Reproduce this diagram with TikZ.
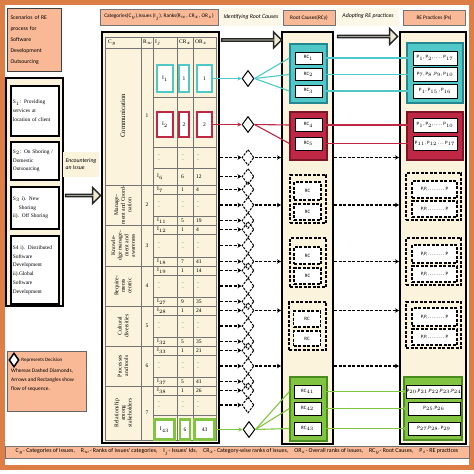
\documentclass[tikz,border=0pt]{standalone}
\usepackage{fontspec}
\setmainfont{Liberation Serif}
\newfontfamily\calfont{Carlito}
\usetikzlibrary{positioning,arrows.meta,shapes.geometric,shapes.arrows,calc}

\definecolor{salmon}{RGB}{249,185,150}
\definecolor{cream}{RGB}{251,243,220}
\definecolor{borderorange}{RGB}{221,126,70}
\definecolor{tealc}{RGB}{80,200,200}
\definecolor{tealdark}{RGB}{35,135,145}
\definecolor{crimson}{RGB}{190,40,68}
\definecolor{crimsondark}{RGB}{125,20,40}
\definecolor{leaf}{RGB}{128,196,66}
\definecolor{leafdark}{RGB}{72,140,30}
\definecolor{arrowfill}{RGB}{238,234,210}

\tikzset{
  labelbox/.style={draw=black!55, fill=salmon, line width=0.5pt, inner sep=1.5pt,
    font=\calfont\fontsize{5.3}{6}\selectfont},
  colframe/.style={draw=black, fill=cream, line width=2pt, inner sep=0pt},
  scenbox/.style={draw=black, fill=white, line width=1.8pt, inner sep=2pt, anchor=north west,
    align=left, text width=44pt, font=\fontsize{5.4}{8.8}\selectfont},
  gridline/.style={draw=black!55, line width=0.4pt},
  cell/.style={anchor=west, inner sep=0pt, font=\fontsize{5.5}{6}\selectfont},
  dotcell/.style={inner sep=0pt, align=center, font=\fontsize{5.5}{5}\selectfont},
  catlabel/.style={rotate=90, align=center, inner sep=0pt, font=\fontsize{5.7}{6.6}\selectfont},
  hibox/.style={fill=white, line width=2pt, inner sep=0pt, font=\fontsize{5.5}{6}\selectfont},
  bigarrow/.style={single arrow, draw=black!85, line width=1.4pt, fill=arrowfill,
    single arrow head extend=4pt, single arrow head indent=0pt, inner sep=0pt, minimum width=16pt},
  decision/.style={diamond, draw=black, line width=1pt, fill=white, inner sep=0pt,
    minimum width=12pt, minimum height=16pt},
  ddiam/.style={diamond, draw=black, line width=1pt, dash pattern=on 2.4pt off 1.2pt,
    inner sep=0pt, minimum width=12pt, minimum height=16pt},
  darr/.style={line width=1.2pt, dash pattern=on 3pt off 1.5pt, -{Stealth[length=4pt,width=4.5pt]}},
  colarr/.style={line width=1.1pt, -{Stealth[length=4pt,width=4pt]}},
  colline/.style={line width=1.1pt},
  grp/.style={inner sep=0pt, line width=1.2pt},
  dgrp/.style={draw=black, line width=1.3pt, dash pattern=on 3pt off 1.5pt, inner sep=0pt},
  rcbox/.style={draw=black, fill=white, line width=1pt, inner sep=0pt, minimum width=27pt,
    font=\calfont\fontsize{5}{5}\selectfont},
  pbox/.style={rcbox, minimum width=44pt},
  drcbox/.style={dgrp, fill=white, minimum width=27pt, font=\calfont\fontsize{5}{5}\selectfont},
  dpbox/.style={drcbox, minimum width=45pt},
  flowtext/.style={inner sep=0pt, align=center, font=\calfont\itshape\fontsize{5.8}{7}\selectfont},
}

\begin{document}
\begin{tikzpicture}[x=1pt,y=-1pt]
\useasboundingbox (0,0) rectangle (474,474);

% Outer border
\draw[borderorange, line width=5pt] (2.5,2.5) rectangle (471.5,467);

% Header labels
\node[labelbox, draw=black!75, line width=1pt, anchor=north west, text width=48pt, minimum height=63pt,
  inner sep=3pt, align=left, font=\calfont\fontsize{5.7}{11}\selectfont] (scen) at (7,8)
  {Scenarios of RE\\process for\\Software\\Development\\Outsourcing};
\node[labelbox, minimum width=118pt, minimum height=16pt] (hdrtab) at (159,17)
  {Categories(C$_y$),Issues (I$_j$), Ranks(R$_w$, CR$_x$, OR$_z$)};
\fill[cream!70] (220,8) rectangle (282,26);
\node[flowtext] (idrc) at (251,17) {Identifying Root Causes};
\node[labelbox, minimum width=52pt, minimum height=15pt] (hdrrc) at (309,17.5) {Root Causes(RCy)};
\fill[cream!70] (337,8) rectangle (399,26);
\node[flowtext] (adre) at (368,16) {Adopting RE practices};
\node[labelbox, minimum width=62pt, minimum height=15pt] (hdrp) at (434,17.5) {RE Practices (Ps)};

% Scenarios
\node[colframe, minimum width=57pt, minimum height=228pt] (scenframe) at (34.5,192) {};
\node[scenbox, minimum height=50pt] (s1) at (10,85) {S$_1$: Providing\\services at\\location of client};
\node[scenbox, minimum height=38pt] (s2) at (10,141) {S$_2$: On Shoring /\\Domestic\\Outsourcing};
\node[scenbox, minimum height=42pt] (s3) at (10,186) {S$_3$ i). New\\\hspace*{6pt}Shoring\\ii). Off Shoring};
\node[scenbox, minimum height=68pt] (s4) at (10,235) {S4 i). Distributed\\Software\\Development\\ii).Global\\Software\\Development};

% Encountering an issue
\fill[cream] (63,152) rectangle (99,177);
\node[flowtext, align=left] (enc) at (81,164) {Encountering\\an Issue};
\node[bigarrow, minimum height=35pt] (encarr) at (82.5,195.5) {};

% Decision legend
\node[labelbox, draw=black!60, line width=0.8pt, minimum width=79pt, minimum height=60pt] (declegend) at (46.5,381) {};
\node[decision, line width=1.5pt, minimum width=10pt, minimum height=14pt] (legdia) at (14,360) {};
\node[cell, font=\calfont\fontsize{5}{6}\selectfont, right=1.5pt of legdia] (legtxt) {Represents Decision};
\node[cell, anchor=north west, align=left, font=\calfont\fontsize{5.4}{8.8}\selectfont] (legnote) at (11,369)
  {Whereas Dashed Diamonds,\\Arrows and Rectangles show\\flow of sequence.};

% Bottom legend
\node[labelbox, minimum width=464pt, minimum height=12pt, font=\calfont\fontsize{5.9}{6}\selectfont] (legend) at (237,452)
  {C$_y$- Categories of issues,\quad R$_w$- Ranks of issues' categories,\quad I$_j$- Issues' Ids,\quad CR$_x$- Category-wise ranks of issues,\quad OR$_z$- Overall ranks of issues,\quad RC$_y$- Root Causes,\quad P$_s$- RE practices};

% Table
\node[colframe, minimum width=117pt, minimum height=411pt] (tabframe) at (160.5,237.5) {};
\draw[gridline] (105,37) rectangle (216,440);
\draw[gridline] (105,48) -- (216,48);
\foreach \x in {141,153,177,193} \draw[gridline] (\x,37) -- (\x,440);
\foreach \y in {185,225,266,306,346,386} \draw[gridline] (105,\y) -- (216,\y);
\foreach \y in {97,147,168,194,216,234,257,275,297,315,337,355,377,395,415} \draw[gridline] (153,\y) -- (216,\y);

\node[cell] (hC) at (108,42.5) {C$_y$};
\node[cell] (hR) at (143,42.5) {R$_w$};
\node[cell] (hI) at (155,42.5) {I$_j$};
\node[cell] (hCR) at (179,42.5) {CR$_x$};
\node[cell] (hOR) at (195,42.5) {OR$_z$};

% Categories
\node[catlabel, font=\fontsize{6.8}{7.5}\selectfont] (cat1) at (123,116) {Communication};
\node[catlabel] (cat2) at (123,205) {Manage-\\ment and Coord-\\nation};
\node[catlabel] (cat3) at (123,245.5) {Knowle-\\dge manage-\\ment and\\awareness};
\node[catlabel] (cat4) at (123,286) {Require-\\ments\\centric};
\node[catlabel] (cat5) at (123,326) {Cultural\\diversities};
\node[catlabel] (cat6) at (123,366) {Processes\\and tools};
\node[catlabel] (cat7) at (123,413) {Relationship\\among\\stakeholders};
\foreach \r/\y in {1/116,2/205,3/245.5,4/286,5/326,6/366,7/413}
  \node[cell, anchor=center] (rank\r) at (147,\y) {\r};

% Category 1 rows
\node[hibox, draw=tealc, minimum width=16pt, minimum height=27pt] (i1) at (165,78.5) {I$_1$};
\node[hibox, draw=tealc, minimum width=10pt, minimum height=27pt] (cr1) at (184,78.5) {1};
\node[hibox, draw=tealc, minimum width=15pt, minimum height=27pt] (or1) at (204.5,78.5) {1};
\node[hibox, draw=crimson, minimum width=16pt, minimum height=25pt] (i2) at (165,124.5) {I$_2$};
\node[hibox, draw=crimson, minimum width=10pt, minimum height=25pt] (cr2) at (184,124.5) {2};
\node[hibox, draw=crimson, minimum width=15pt, minimum height=25pt] (or2) at (204.5,124.5) {2};
\foreach \x in {159,183,198} \node[dotcell] (dot1-\x) at (\x,157.5) {.\\.};
\node[cell] (i6) at (157,176.5) {I$_6$};
\node[cell] (cr6) at (181,176.5) {6};
\node[cell] (or6) at (196,176.5) {12};
\node[ddiam] (db1) at (248,157.5) {};
\node[ddiam] (dc1) at (248,176.5) {};

% Categories 2 to 6
\foreach \c/\ya/\yb/\ia/\ra/\oa/\ib/\rb/\ob in
  {2/185/225/7/1/4/11/5/19, 3/225/266/12/1/4/18/7/41, 4/266/306/19/1/14/27/9/35,
   5/306/346/28/1/24/32/5/35, 6/346/386/33/1/21/37/5/41}{
  \node[cell] (ia\c) at (157,\ya+4.5) {I$_{\ia}$};
  \node[cell] (cra\c) at (181,\ya+4.5) {\ra};
  \node[cell] (ora\c) at (196,\ya+4.5) {\oa};
  \node[cell] (ib\c) at (157,\yb-4.5) {I$_{\ib}$};
  \node[cell] (crb\c) at (181,\yb-4.5) {\rb};
  \node[cell] (orb\c) at (196,\yb-4.5) {\ob};
  \foreach \x in {159,183,198} \node[dotcell] (dot\c-\x) at (\x,{(\ya+\yb)/2}) {.\\.};
  \node[ddiam] (da\c) at (248,\ya+4.5) {};
  \node[ddiam] (db\c) at (248,{(\ya+\yb)/2}) {};
  \node[ddiam] (dc\c) at (248,\yb-4.5) {};
}

% Category 7 rows
\node[cell] (i38) at (157,390.5) {I$_{38}$};
\node[cell] (cr38) at (181,390.5) {1};
\node[cell] (or38) at (196,390.5) {26};
\foreach \x in {159,183,198} \node[dotcell] (dot7-\x) at (\x,405) {.\\.};
\node[hibox, draw=leaf, line width=2.5pt, minimum width=20pt, minimum height=20pt] (i43) at (164.5,429.5) {I$_{43}$};
\node[hibox, draw=leaf, line width=2.5pt, minimum width=10pt, minimum height=20pt] (cr43) at (185,429.5) {6};
\node[hibox, draw=leaf, line width=2.5pt, minimum width=20pt, minimum height=20pt] (or43) at (204.5,429.5) {43};
\node[ddiam] (da7) at (248,390.5) {};
\node[ddiam] (db7) at (248,405) {};

% Decisions on highlighted issues
\node[decision] (dcy) at (248,78.5) {};
\node[decision] (dred) at (248,124.5) {};
\node[decision] (dgr) at (249,429.5) {};

% Root causes and RE practices columns
\node[colframe, minimum width=51pt, minimum height=412pt] (rcframe) at (307.5,238) {};
\node[colframe, minimum width=66pt, minimum height=412pt] (pframe) at (433,238) {};
\node[bigarrow, minimum height=60pt] (arrrc) at (251,40) {};
\node[bigarrow, minimum height=60pt] (arrp) at (367,36.5) {};

% Cyan group
\node[grp, fill=tealc, draw=tealdark, minimum width=37pt, minimum height=59pt] (cyrc) at (308.5,73.5) {};
\node[grp, fill=tealc, draw=tealdark, minimum width=56pt, minimum height=60pt] (cyp) at (435,73) {};
\node[rcbox, minimum height=12pt] (rc1) at (308.5,58) {RC$_1$};
\node[rcbox, minimum height=12pt] (rc2) at (308.5,74.5) {RC$_2$};
\node[rcbox, minimum height=12pt] (rc3) at (308.5,91) {RC$_3$};
\node[pbox, minimum height=14pt] (p1) at (435,58) {P$_1$, P$_2$, .\,.\,.\,. P$_{17}$};
\node[pbox, minimum height=14pt] (p2) at (435,74.5) {P$_7$, P$_8$ ,P$_9$, P$_{10}$};
\node[pbox, minimum height=14pt] (p3) at (435,91) {P$_1$, P$_{15}$ , P$_{16}$};

% Red group
\node[grp, fill=crimson, draw=crimsondark, minimum width=37pt, minimum height=48pt] (rdrc) at (308.5,136) {};
\node[grp, fill=crimson, draw=crimsondark, minimum width=56pt, minimum height=48pt] (rdp) at (435,136) {};
\node[rcbox, minimum height=13pt] (rc4) at (308.5,125) {RC$_4$};
\node[rcbox, minimum height=13pt] (rc5) at (308.5,143.5) {RC$_5$};
\node[pbox, minimum height=14pt] (p4) at (435,125) {P$_1$, P$_2$, .\,.\,.\,. P$_{10}$};
\node[pbox, minimum height=14pt] (p5) at (435,143.5) {P$_{11}$, P$_{12}$ .\,.\,. P$_{17}$};

% Dashed groups
\node[dgrp, minimum width=36pt, minimum height=48pt] (drc1) at (308,199) {};
\node[drcbox, minimum height=18pt] (drc1a) at (307.5,191) {RC};
\node[drcbox, minimum height=16pt] (drc1b) at (307.5,212) {RC};
\node[dgrp, minimum width=36pt, minimum height=49pt] (drc2) at (308,262.5) {};
\node[drcbox, minimum height=17pt] (drc2a) at (307.5,255.5) {RC};
\node[drcbox, minimum height=16pt] (drc2b) at (307.5,276) {RC};
\node[dgrp, minimum width=37pt, minimum height=48pt] (drc3) at (307.5,326) {};
\node[drcbox, minimum height=16pt] (drc3a) at (307,319) {RC};
\node[drcbox, minimum height=15pt] (drc3b) at (307,338.5) {RC};
\node[dgrp, minimum width=55pt, minimum height=47pt] (dp1) at (433.5,196.5) {};
\node[dpbox, minimum height=17pt] (dp1a) at (434.5,189.5) {P,P,\,.\,.\,.\,.\,.\,.\,.\,. P};
\node[dpbox, minimum height=16pt] (dp1b) at (434.5,209) {P,P,\,.\,.\,.\,.\,.\,.\,.\,. P};
\node[dgrp, minimum width=55pt, minimum height=47pt] (dp2) at (433.5,261.5) {};
\node[dpbox, minimum height=18pt] (dp2a) at (434.5,254) {P,P,\,.\,.\,.\,.\,.\,.\,.\,. P};
\node[dpbox, minimum height=16pt] (dp2b) at (434.5,274) {P,P,\,.\,.\,.\,.\,.\,.\,.\,. P};
\node[dgrp, minimum width=55pt, minimum height=46pt] (dp3) at (433.5,325) {};
\node[dpbox, minimum height=18pt] (dp3a) at (434.5,317) {P,P,\,.\,.\,.\,.\,.\,.\,.\,. P};
\node[dpbox, minimum height=16pt] (dp3b) at (434.5,337) {P,P,\,.\,.\,.\,.\,.\,.\,.\,. P};

% Green group
\node[grp, fill=leaf, draw=leafdark, minimum width=37pt, minimum height=64pt] (grrc) at (308.5,409) {};
\node[grp, fill=leaf, draw=leafdark, minimum width=58pt, minimum height=63pt] (grnp) at (433,408.5) {};
\node[rcbox, minimum height=13pt] (rc41) at (307.5,391.5) {RC$_{41}$};
\node[rcbox, minimum height=13pt] (rc42) at (307.5,408.5) {RC$_{42}$};
\node[rcbox, minimum height=13pt] (rc43) at (307.5,428.5) {RC$_{43}$};
\node[pbox, minimum width=52pt, minimum height=13pt] (p41) at (434,391.5) {P$_{20}$,P$_{21}$,P$_{22}$,P$_{23}$,P$_{24}$};
\node[pbox, minimum width=52pt, minimum height=13pt] (p42) at (434,408.5) {P$_{25}$,P$_{26}$};
\node[pbox, minimum width=52pt, minimum height=13pt] (p43) at (434,428.5) {P$_{27}$,P$_{28}$, P$_{29}$};

% Dashed flow
\foreach \n in {db1,dc1,da2,db2,dc2,da3,db3,dc3,da4,db4,dc4,da5,db5,dc5,da6,db6,dc6,da7,db7}
  \draw[darr] (tabframe.east |- \n) -- (\n.west);
\foreach \n in {db1,db2,dc3,da5,db6}{
  \draw[darr] (\n.east) -- (\n -| rcframe.west);
  \draw[darr] (\n -| rcframe.east) -- (\n -| pframe.west);
}

% Coloured flow
\draw[colarr, tealc] (or1.east) -- (dcy.west);
\foreach \i in {1,2,3} {
  \draw[colline, tealc] (dcy.east) -- (rc\i -| cyrc.west);
  \draw[colarr, tealc] (rc\i.east) -- (p\i.west);
}
\draw[colarr, crimson] (or2.east) -- (dred.west);
\foreach \i in {4,5} {
  \draw[colline, crimson] (dred.east) -- (rc\i -| rdrc.west);
  \draw[colarr, crimson] (rc\i.east) -- (p\i.west);
}
\draw[colarr, leaf] (or43.east) -- (dgr.west);
\foreach \i in {41,42,43} {
  \draw[colline, leaf] (dgr.east) -- (rc\i -| grrc.west);
  \draw[colarr, leaf] (rc\i.east) -- (p\i.west);
}
\end{tikzpicture}
\end{document}
